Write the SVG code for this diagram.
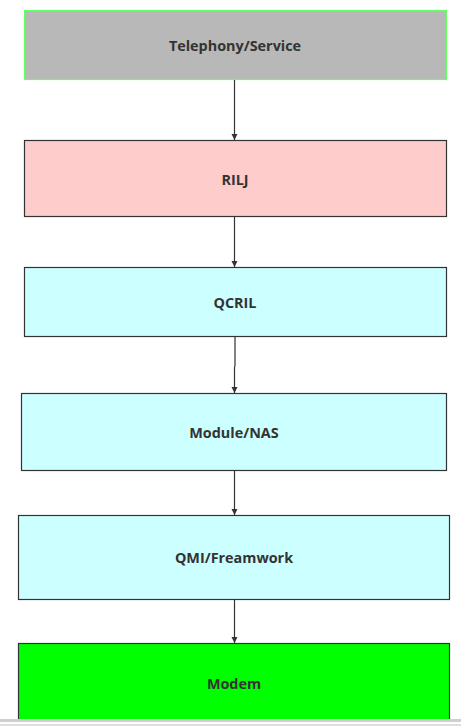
<svg xmlns="http://www.w3.org/2000/svg" width="461" height="727" viewBox="0 0 461 727">
<style>
.box{stroke:#333;stroke-width:1.2}
.lbl{font-family:"Open Sans","Noto Sans",sans-serif;font-weight:bold;font-size:14.4px;fill:#333;text-anchor:middle;dominant-baseline:central}
.con{stroke:#333;stroke-width:1.2;fill:none;marker-end:url(#ah)}
</style>
<defs>
<marker id="ah" viewBox="0 0 10 10" refX="10" refY="5" markerWidth="6" markerHeight="9" markerUnits="userSpaceOnUse" orient="auto">
<path d="M0,0 L10,5 L0,10 z" fill="#333"/>
</marker>
</defs>
<rect width="461" height="727" fill="#fff"/>
<g id="n1"><rect x="24.5" y="10.5" width="422" height="69" fill="#b8b8b8" stroke="#66ff66" stroke-width="1.2"/><text class="lbl" x="235" y="45">Telephony/Service</text></g>
<g id="n2"><rect class="box" x="24.5" y="140.5" width="422" height="76" fill="#ffcccc"/><text class="lbl" x="235" y="179">RILJ</text></g>
<g id="n3"><rect class="box" x="24.5" y="267.5" width="422" height="69" fill="#ccffff"/><text class="lbl" x="235" y="302">QCRIL</text></g>
<g id="n4"><rect class="box" x="21.5" y="393.5" width="425" height="77" fill="#ccffff"/><text class="lbl" x="234" y="432">Module/NAS</text></g>
<g id="n5"><rect class="box" x="18.5" y="515.5" width="431" height="84" fill="#ccffff"/><text class="lbl" x="234" y="557">QMI/Freamwork</text></g>
<g id="n6"><rect class="box" x="18.5" y="643.5" width="431" height="90" fill="#00ff00"/><text class="lbl" x="234" y="683">Modem</text></g>
<g id="connectors">
<path class="con" d="M234.5,80 V140"/>
<path class="con" d="M234.5,217 V267"/>
<path class="con" d="M235,337 V365 L234.5,368 V393"/>
<path class="con" d="M234.5,471 V515"/>
<path class="con" d="M234.5,600 V643"/>
</g>
<rect x="0" y="719" width="461" height="3" fill="#cfcfcf"/>
<rect x="0" y="722" width="461" height="5" fill="#fff"/>
<rect x="0" y="724.5" width="461" height="1" fill="#bdbdbd"/>
</svg>
